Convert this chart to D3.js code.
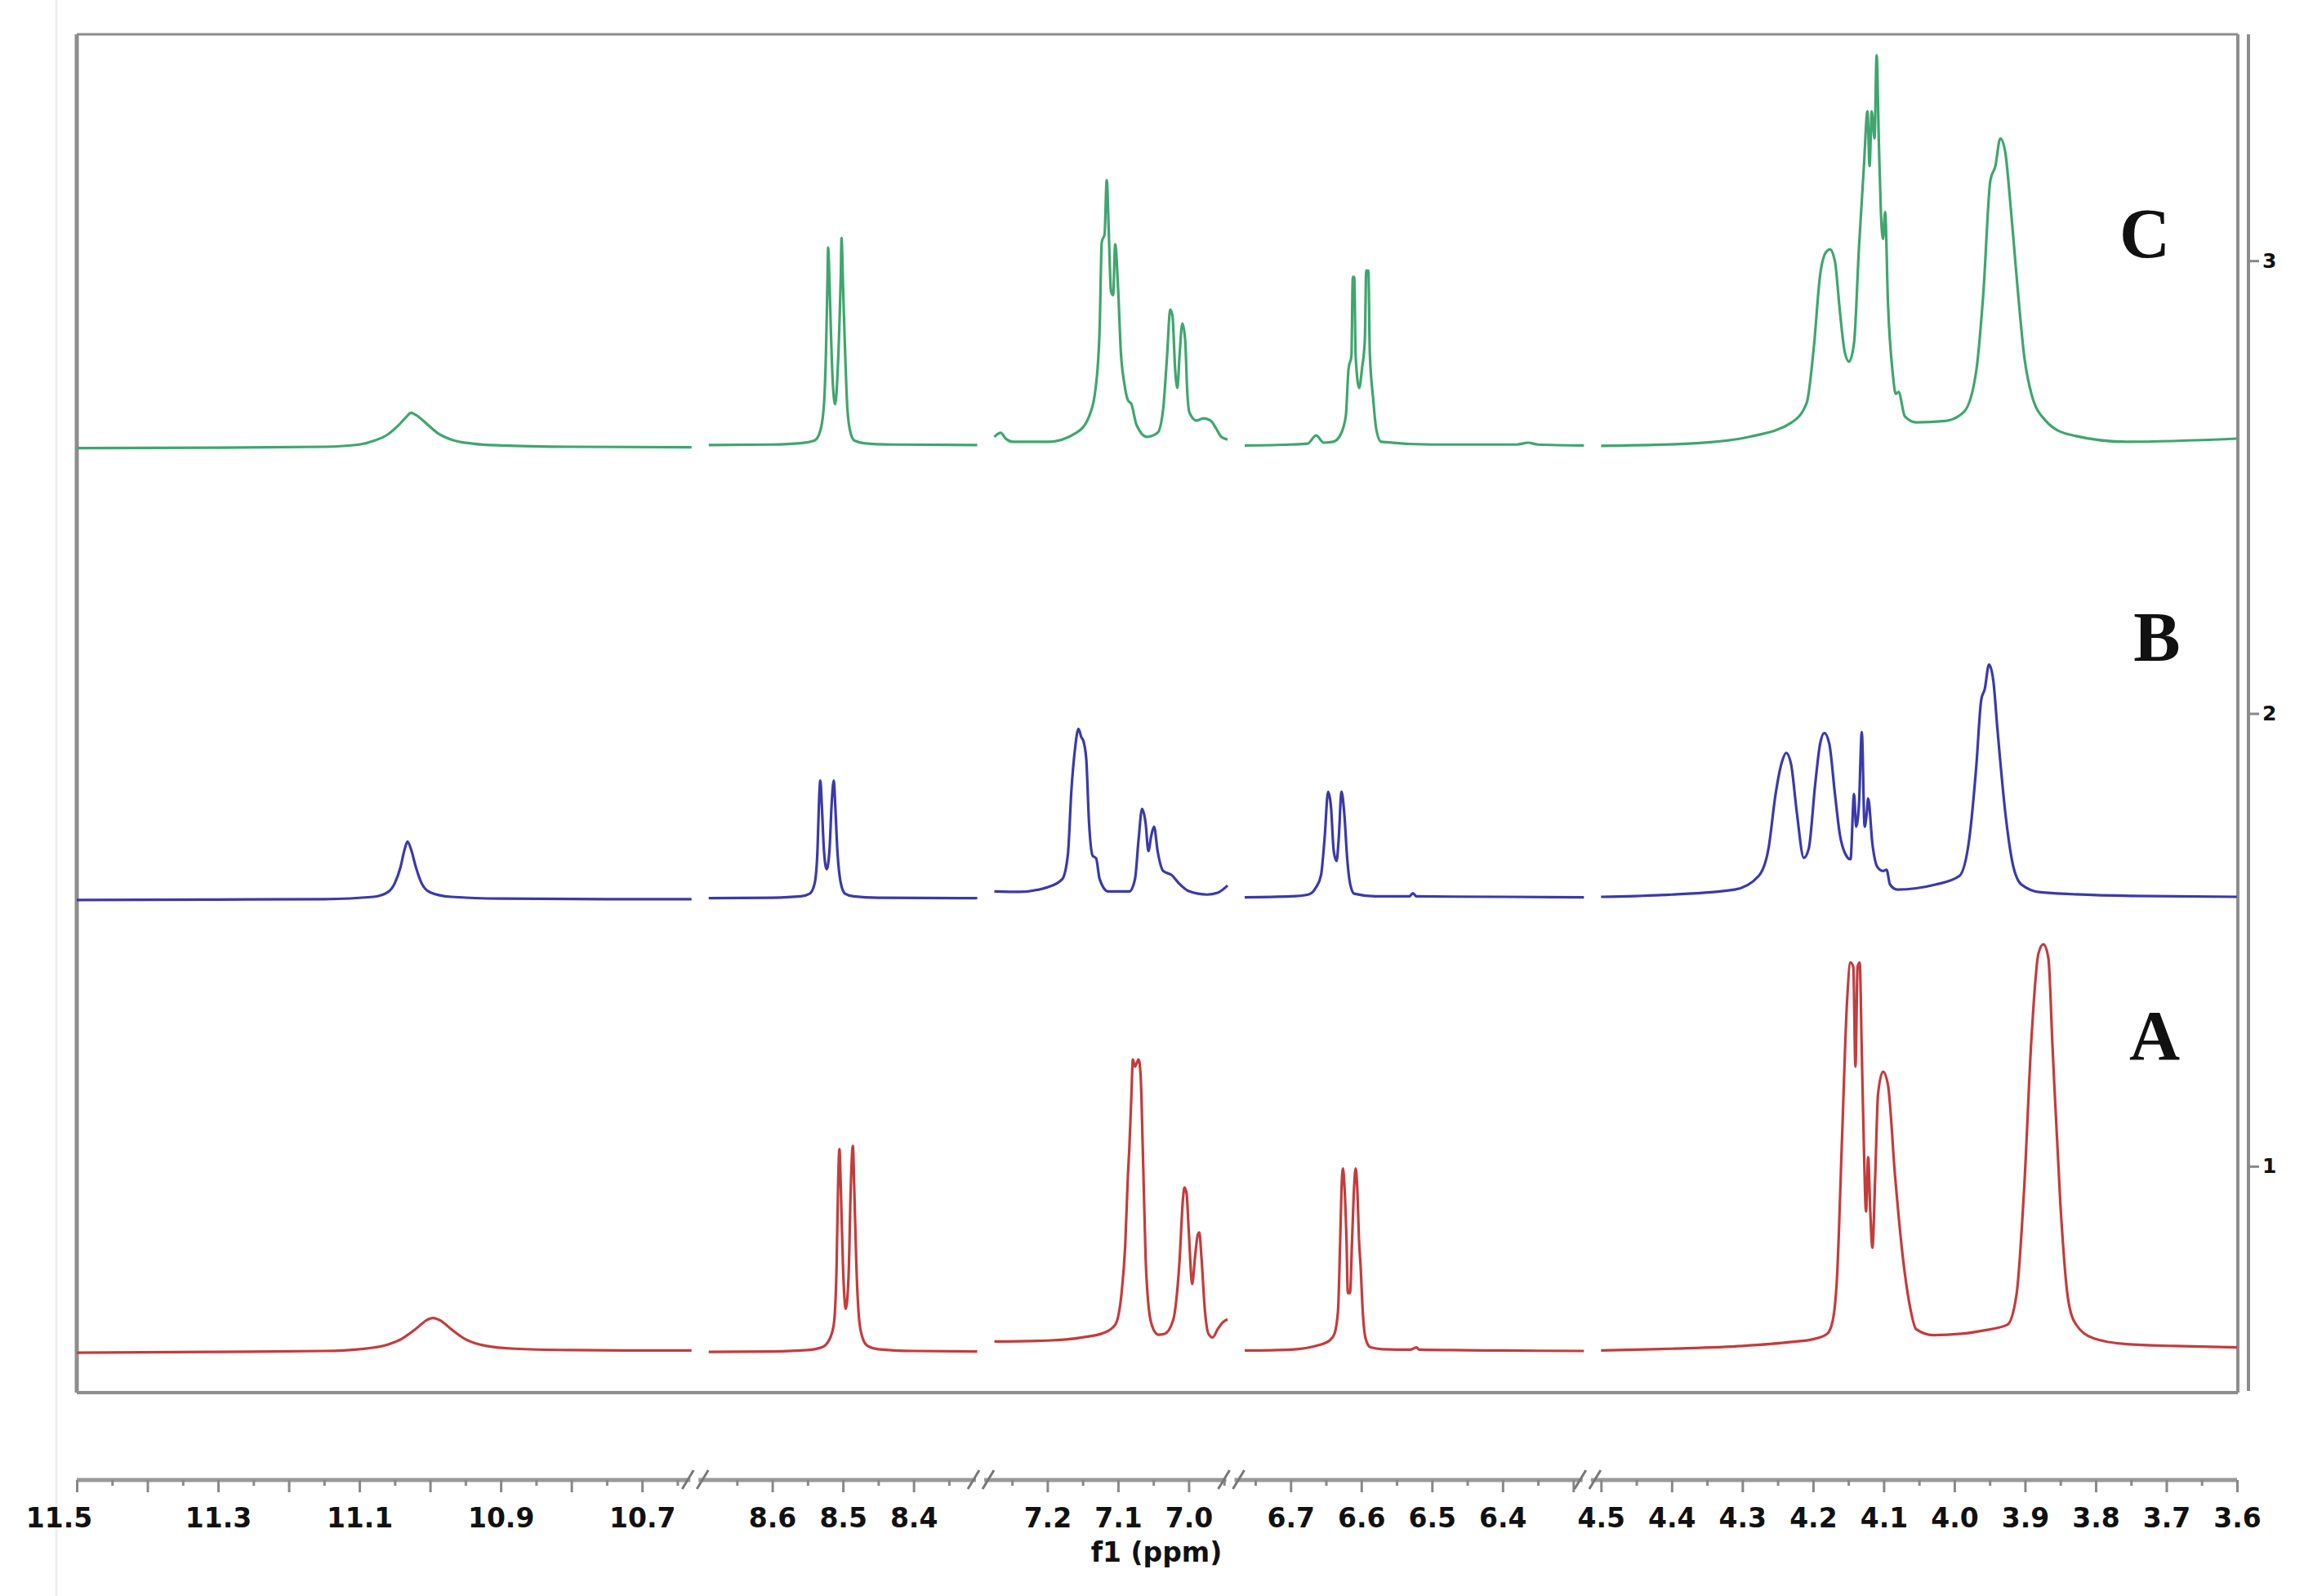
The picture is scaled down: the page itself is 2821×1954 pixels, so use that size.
<!DOCTYPE html>
<html>
<head>
<meta charset="utf-8">
<script src="https://cdn.jsdelivr.net/npm/d3@7"></script>
<style>
  body { margin: 0; background: #fff; }
</style>
</head>
<body>
<div id="chart"></div>
<script>
// ---------- data ----------
// broken ppm axis: the visible windows, high to low
var segments = [[11.5, 10.63], [8.69, 8.31], [7.275, 6.945], [6.765, 6.285], [4.5, 3.6]];

var tickLabels = ["11.5", "11.3", "11.1", "10.9", "10.7",
  "8.6", "8.5", "8.4",
  "7.2", "7.1", "7.0",
  "6.7", "6.6", "6.5", "6.4",
  "4.5", "4.4", "4.3", "4.2", "4.1", "4.0", "3.9", "3.8", "3.7", "3.6"];

var yTicks = [1, 2, 3];

var specNames = ["A", "B", "C"];

// [ppm, intensity] pairs, spectrum A (red)
var specA = [
  [11.5, 0.588], [11.3, 0.590], [11.15, 0.592], [11.1, 0.596], [11.06, 0.606], [11.04, 0.619], [11.02, 0.641],
  [11.005, 0.66], [10.996, 0.665], [10.985, 0.659], [10.97, 0.640], [10.95, 0.618], [10.92, 0.603], [10.88, 0.597],
  [10.8, 0.594], [10.7, 0.593], [10.63, 0.593],

  [8.69, 0.590], [8.6, 0.591], [8.55, 0.594], [8.53, 0.600], [8.52, 0.615], [8.513, 0.650], [8.509, 0.78],
  [8.507, 0.95], [8.505, 1.038], [8.503, 0.95], [8.500, 0.78], [8.496, 0.685], [8.492, 0.76], [8.489, 0.95],
  [8.486, 1.045], [8.484, 0.95], [8.481, 0.78], [8.477, 0.66], [8.472, 0.62], [8.465, 0.603], [8.45, 0.596],
  [8.4, 0.592], [8.31, 0.591],

  [7.275, 0.613], [7.2, 0.615], [7.15, 0.622], [7.12, 0.632], [7.104, 0.65], [7.095, 0.72], [7.09, 0.82],
  [7.086, 0.98], [7.084, 1.04], [7.081, 1.16], [7.079, 1.236], [7.076, 1.22], [7.074, 1.226], [7.071, 1.236],
  [7.068, 1.20], [7.065, 1.04], [7.061, 0.80], [7.056, 0.68], [7.05, 0.64], [7.043, 0.628], [7.034, 0.63],
  [7.022, 0.66], [7.013, 0.79], [7.008, 0.93], [7.006, 0.953], [7.003, 0.94], [7.0, 0.86], [6.995, 0.74],
  [6.991, 0.80], [6.987, 0.85], [6.985, 0.854], [6.982, 0.80], [6.977, 0.68], [6.972, 0.63], [6.966, 0.622],
  [6.959, 0.64], [6.952, 0.655], [6.945, 0.662],

  [6.765, 0.593], [6.7, 0.595], [6.66, 0.605], [6.645, 0.615], [6.638, 0.63], [6.633, 0.68], [6.630, 0.83],
  [6.628, 0.95], [6.626, 0.995], [6.624, 0.96], [6.621, 0.84], [6.619, 0.72], [6.616, 0.72], [6.613, 0.84],
  [6.610, 0.96], [6.608, 0.995], [6.606, 0.96], [6.603, 0.83], [6.601, 0.78], [6.598, 0.68], [6.594, 0.62],
  [6.587, 0.600], [6.57, 0.596], [6.53, 0.595], [6.522, 0.600], [6.518, 0.595], [6.4, 0.593], [6.285, 0.592],

  [4.5, 0.593], [4.4, 0.597], [4.3, 0.603], [4.23, 0.612], [4.2, 0.618], [4.18, 0.63], [4.172, 0.66],
  [4.166, 0.757], [4.159, 1.06], [4.152, 1.36], [4.147, 1.45], [4.143, 1.44], [4.140, 1.22], [4.137, 1.44],
  [4.134, 1.45], [4.131, 1.25], [4.128, 1.04], [4.125, 0.90], [4.122, 1.02], [4.119, 0.90], [4.116, 0.82],
  [4.112, 0.98], [4.108, 1.16], [4.101, 1.209], [4.094, 1.18], [4.084, 0.98], [4.073, 0.80], [4.064, 0.70],
  [4.054, 0.64], [4.03, 0.627], [3.99, 0.63], [3.96, 0.637], [3.925, 0.65], [3.912, 0.717], [3.901, 0.958],
  [3.891, 1.28], [3.881, 1.47], [3.874, 1.49], [3.867, 1.46], [3.861, 1.26], [3.85, 0.917], [3.84, 0.717],
  [3.83, 0.656], [3.803, 0.62], [3.756, 0.607], [3.688, 0.603], [3.6, 0.600]
];

// spectrum B (blue)
var specB = [
  [11.5, 1.588], [11.3, 1.589], [11.15, 1.590], [11.08, 1.595], [11.06, 1.605], [11.05, 1.625], [11.042, 1.66],
  [11.036, 1.70], [11.032, 1.717], [11.027, 1.70], [11.02, 1.66], [11.012, 1.625], [11.0, 1.605], [10.97, 1.595],
  [10.9, 1.591], [10.75, 1.590], [10.63, 1.590],

  [8.69, 1.592], [8.6, 1.593], [8.56, 1.596], [8.547, 1.602], [8.540, 1.625], [8.536, 1.70], [8.534, 1.80],
  [8.532, 1.852], [8.530, 1.80], [8.527, 1.70], [8.523, 1.656], [8.519, 1.70], [8.516, 1.80], [8.513, 1.852],
  [8.511, 1.80], [8.508, 1.70], [8.503, 1.625], [8.497, 1.602], [8.485, 1.596], [8.45, 1.593], [8.31, 1.592],

  [7.275, 1.607], [7.24, 1.606], [7.2, 1.616], [7.179, 1.634], [7.171, 1.688], [7.166, 1.83], [7.161, 1.92],
  [7.156, 1.966], [7.152, 1.948], [7.149, 1.939], [7.145, 1.90], [7.141, 1.758], [7.136, 1.686], [7.131, 1.68],
  [7.126, 1.634], [7.114, 1.607], [7.084, 1.607], [7.076, 1.634], [7.071, 1.72], [7.066, 1.789], [7.061, 1.758],
  [7.057, 1.696], [7.053, 1.73], [7.049, 1.75], [7.044, 1.696], [7.036, 1.652], [7.024, 1.643], [7.014, 1.625],
  [6.999, 1.607], [6.974, 1.600], [6.959, 1.604], [6.945, 1.62],

  [6.765, 1.594], [6.70, 1.596], [6.675, 1.600], [6.664, 1.616], [6.657, 1.643], [6.652, 1.723], [6.647, 1.827],
  [6.643, 1.795], [6.639, 1.696], [6.635, 1.674], [6.632, 1.723], [6.628, 1.827], [6.624, 1.777], [6.620, 1.68],
  [6.616, 1.625], [6.610, 1.602], [6.58, 1.596], [6.532, 1.596], [6.527, 1.603], [6.522, 1.596], [6.4, 1.595],
  [6.285, 1.594],

  [4.5, 1.595], [4.4, 1.600], [4.311, 1.611], [4.277, 1.641], [4.263, 1.702], [4.253, 1.822], [4.244, 1.893],
  [4.238, 1.913], [4.231, 1.887], [4.223, 1.782], [4.213, 1.681], [4.206, 1.702], [4.197, 1.843], [4.19, 1.933],
  [4.184, 1.957], [4.177, 1.933], [4.169, 1.822], [4.162, 1.732], [4.155, 1.692], [4.147, 1.678], [4.142, 1.822],
  [4.139, 1.75], [4.135, 1.80], [4.131, 1.959], [4.127, 1.75], [4.124, 1.78], [4.122, 1.812], [4.116, 1.712],
  [4.109, 1.661], [4.101, 1.652], [4.096, 1.655], [4.091, 1.622], [4.081, 1.611], [4.027, 1.622], [3.993, 1.641],
  [3.979, 1.722], [3.969, 1.883], [3.962, 2.03], [3.957, 2.054], [3.951, 2.108], [3.945, 2.074], [3.939, 1.964],
  [3.928, 1.782], [3.918, 1.672], [3.905, 1.622], [3.878, 1.605], [3.75, 1.597], [3.6, 1.595]
];

// spectrum C (green)
var specC = [
  [11.5, 2.586], [11.3, 2.587], [11.15, 2.589], [11.1, 2.594], [11.08, 2.602], [11.06, 2.616], [11.045, 2.636],
  [11.033, 2.656], [11.027, 2.664], [11.02, 2.659], [11.005, 2.64], [10.99, 2.62], [10.97, 2.605], [10.94, 2.596],
  [10.9, 2.592], [10.8, 2.589], [10.63, 2.588],

  [8.69, 2.593], [8.6, 2.594], [8.56, 2.597], [8.54, 2.603], [8.532, 2.625], [8.527, 2.68], [8.524, 2.80],
  [8.522, 2.95], [8.521, 3.029], [8.519, 2.95], [8.517, 2.84], [8.514, 2.72], [8.511, 2.683], [8.508, 2.74],
  [8.505, 2.86], [8.503, 2.97], [8.502, 3.05], [8.500, 2.95], [8.497, 2.80], [8.494, 2.68], [8.49, 2.625],
  [8.484, 2.603], [8.47, 2.597], [8.43, 2.594], [8.31, 2.593],

  [7.275, 2.611], [7.266, 2.62], [7.259, 2.607], [7.249, 2.60], [7.199, 2.60], [7.159, 2.62], [7.141, 2.656],
  [7.131, 2.728], [7.126, 2.852], [7.123, 3.041], [7.119, 3.059], [7.116, 3.178], [7.113, 3.059], [7.110, 2.933],
  [7.107, 2.924], [7.104, 3.036], [7.100, 2.942], [7.096, 2.798], [7.091, 2.728], [7.086, 2.692], [7.081, 2.683],
  [7.074, 2.638], [7.059, 2.611], [7.044, 2.62], [7.036, 2.674], [7.031, 2.78], [7.026, 2.892], [7.023, 2.879],
  [7.019, 2.755], [7.016, 2.719], [7.013, 2.789], [7.009, 2.861], [7.005, 2.825], [7.002, 2.71], [6.999, 2.665],
  [6.989, 2.647], [6.979, 2.652], [6.969, 2.647], [6.961, 2.629], [6.954, 2.611], [6.945, 2.605],

  [6.765, 2.592], [6.70, 2.594], [6.676, 2.596], [6.664, 2.614], [6.653, 2.598], [6.64, 2.60], [6.63, 2.614],
  [6.622, 2.656], [6.618, 2.762], [6.614, 2.789], [6.612, 2.964], [6.610, 2.964], [6.608, 2.789], [6.603, 2.719],
  [6.599, 2.762], [6.595, 2.825], [6.593, 2.978], [6.590, 2.978], [6.588, 2.798], [6.583, 2.692], [6.579, 2.629],
  [6.572, 2.600], [6.50, 2.594], [6.38, 2.594], [6.364, 2.598], [6.35, 2.594], [6.285, 2.592],

  [4.5, 2.591], [4.365, 2.597], [4.29, 2.611], [4.23, 2.643], [4.209, 2.686], [4.199, 2.807], [4.19, 2.968],
  [4.182, 3.018], [4.176, 3.025], [4.169, 2.998], [4.162, 2.888], [4.155, 2.797], [4.149, 2.777], [4.142, 2.818],
  [4.135, 3.029], [4.128, 3.209], [4.123, 3.33], [4.120, 3.209], [4.117, 3.33], [4.113, 3.27], [4.110, 3.454],
  [4.107, 3.27], [4.104, 3.108], [4.101, 3.048], [4.098, 3.108], [4.094, 2.908], [4.087, 2.748], [4.083, 2.706],
  [4.079, 2.71], [4.07, 2.656], [4.054, 2.643], [4.013, 2.646], [3.986, 2.667], [3.969, 2.757], [3.959, 2.928],
  [3.949, 3.178], [3.942, 3.209], [3.935, 3.27], [3.928, 3.24], [3.922, 3.149], [3.911, 2.948], [3.901, 2.787],
  [3.891, 2.706], [3.871, 2.647], [3.837, 2.616], [3.756, 2.60], [3.6, 2.607]
];

// ---------- layout ----------
var W = 2821, H = 1954;
var frame = { left: 94, top: 42, right: 2740, bottom: 1705 };
var specEnd = 2739, gapPx = 21, axisY = 1812, rightAxisX = 2753;
var colors = { A: "#c43c3c", B: "#3a3aab", C: "#3fa66e" };
var letterPos = { C: [2626, 315], B: [2641, 809], A: [2638, 1297] };

var svg = d3.select("#chart")
  .append("svg")
  .attr("width", W)
  .attr("height", H)
  .style("background", "#fff");

// faint page edge on the left of the original
svg.append("line")
  .attr("x1", 69).attr("x2", 69).attr("y1", 0).attr("y2", H)
  .attr("stroke", "#eeeeee").attr("stroke-width", 3);

// piecewise x scale for the broken axis
var totalPpm = d3.sum(segments, function (s) { return s[0] - s[1]; });
var k = (specEnd - frame.left - gapPx * (segments.length - 1)) / totalPpm;
var xDomain = [], xRange = [], cursor = frame.left;
segments.forEach(function (s, i) {
  if (i > 0) cursor += gapPx;
  xDomain.push(s[0]); xRange.push(cursor);
  cursor += (s[0] - s[1]) * k;
  xDomain.push(s[1]); xRange.push(cursor);
});
var x = d3.scaleLinear().domain(xDomain).range(xRange);

var y = d3.scaleLinear().domain([0.5, 3.5]).range([frame.bottom, frame.top]);

// frame
var grey = "#8d8d8d";
svg.append("line").attr("x1", frame.left).attr("x2", frame.right).attr("y1", frame.top).attr("y2", frame.top)
  .attr("stroke", grey).attr("stroke-width", 3);
svg.append("line").attr("x1", frame.left).attr("x2", frame.right).attr("y1", frame.bottom).attr("y2", frame.bottom)
  .attr("stroke", grey).attr("stroke-width", 4);
svg.append("line").attr("x1", frame.left).attr("x2", frame.left).attr("y1", frame.top).attr("y2", frame.bottom)
  .attr("stroke", grey).attr("stroke-width", 5);
svg.append("line").attr("x1", frame.right).attr("x2", frame.right).attr("y1", frame.top).attr("y2", frame.bottom)
  .attr("stroke", grey).attr("stroke-width", 4);

// spectra, one path per visible window
var line = d3.line()
  .x(function (d) { return x(d[0]); })
  .y(function (d) { return y(d[1]); })
  .curve(d3.curveMonotoneX);

var allSpecs = { A: specA, B: specB, C: specC };
specNames.forEach(function (name) {
  var g = svg.append("g").attr("class", "spec-" + name);
  segments.forEach(function (s) {
    var pts = allSpecs[name].filter(function (d) { return d[0] <= s[0] + 1e-9 && d[0] >= s[1] - 1e-9; });
    g.append("path")
      .datum(pts)
      .attr("d", line)
      .attr("fill", "none")
      .attr("stroke", colors[name])
      .attr("stroke-width", 3.2)
      .attr("stroke-linejoin", "round");
  });
});

// spectrum letters
specNames.forEach(function (name) {
  svg.append("text")
    .attr("x", letterPos[name][0])
    .attr("y", letterPos[name][1])
    .attr("text-anchor", "middle")
    .style("font-family", "'Liberation Serif', 'Times New Roman', serif")
    .style("font-weight", "bold")
    .style("font-size", "86px")
    .style("fill", "#111")
    .text(name);
});

// ---------- x axis ----------
var majors = [], minors = [];
segments.forEach(function (s) {
  d3.range(Math.ceil(s[1] * 20 - 1e-6), Math.floor(s[0] * 20 + 1e-6) + 1).forEach(function (i) {
    if (i % 2 === 0) majors.push(i / 20); else minors.push(i / 20);
  });
});

svg.append("line")
  .attr("x1", frame.left).attr("x2", specEnd)
  .attr("y1", axisY).attr("y2", axisY)
  .attr("stroke", "#999").attr("stroke-width", 5);

var minorAxis = svg.append("g")
  .attr("transform", "translate(0," + axisY + ")")
  .call(d3.axisBottom(x).tickValues(minors).tickSize(7).tickFormat(""));
minorAxis.select(".domain").remove();
minorAxis.selectAll(".tick line").attr("stroke", "#888").attr("stroke-width", 3);

var majorAxis = svg.append("g")
  .attr("transform", "translate(0," + axisY + ")")
  .call(d3.axisBottom(x).tickValues(majors).tickSize(15).tickPadding(20)
    .tickFormat(function (d) {
      var t = d3.format(".1f")(d);
      return tickLabels.indexOf(t) >= 0 ? t : "";
    }));
majorAxis.select(".domain").remove();
majorAxis.selectAll(".tick line").attr("stroke", "#888").attr("stroke-width", 3);
majorAxis.selectAll(".tick text")
  .style("font-family", "'DejaVu Sans', Verdana, sans-serif")
  .style("font-weight", "bold")
  .style("font-size", "33px")
  .style("fill", "#111")
  .attr("dx", function (d) { return d === segments[0][0] ? -22 : 0; });

// break marks between windows
for (var i = 0; i < segments.length - 1; i++) {
  var cx = (x(segments[i][1]) + x(segments[i + 1][0])) / 2;
  svg.append("rect")
    .attr("x", cx - 12).attr("y", axisY - 4).attr("width", 10).attr("height", 8)
    .attr("fill", "#fff");
  [-14, 4].forEach(function (off) {
    svg.append("line")
      .attr("x1", cx + off - 8).attr("y1", axisY + 11)
      .attr("x2", cx + off + 6).attr("y2", axisY - 12)
      .attr("stroke", "#777").attr("stroke-width", 3);
  });
}

svg.append("text")
  .attr("x", 1416)
  .attr("y", 1912)
  .attr("text-anchor", "middle")
  .style("font-family", "'DejaVu Sans', Verdana, sans-serif")
  .style("font-weight", "bold")
  .style("font-size", "33px")
  .style("fill", "#111")
  .text("f1 (ppm)");

// ---------- right intensity axis ----------
svg.append("line")
  .attr("x1", rightAxisX).attr("x2", rightAxisX)
  .attr("y1", frame.top).attr("y2", frame.bottom - 2)
  .attr("stroke", grey).attr("stroke-width", 4);

var yAxis = svg.append("g")
  .attr("transform", "translate(" + rightAxisX + ",0)")
  .call(d3.axisRight(y).tickValues(yTicks).tickSize(13).tickPadding(4).tickFormat(d3.format("d")));
yAxis.select(".domain").remove();
yAxis.selectAll(".tick line").attr("stroke", "#888").attr("stroke-width", 3);
yAxis.selectAll(".tick text")
  .style("font-family", "'DejaVu Sans', Verdana, sans-serif")
  .style("font-weight", "bold")
  .style("font-size", "25px")
  .style("fill", "#111");
</script>
</body>
</html>
